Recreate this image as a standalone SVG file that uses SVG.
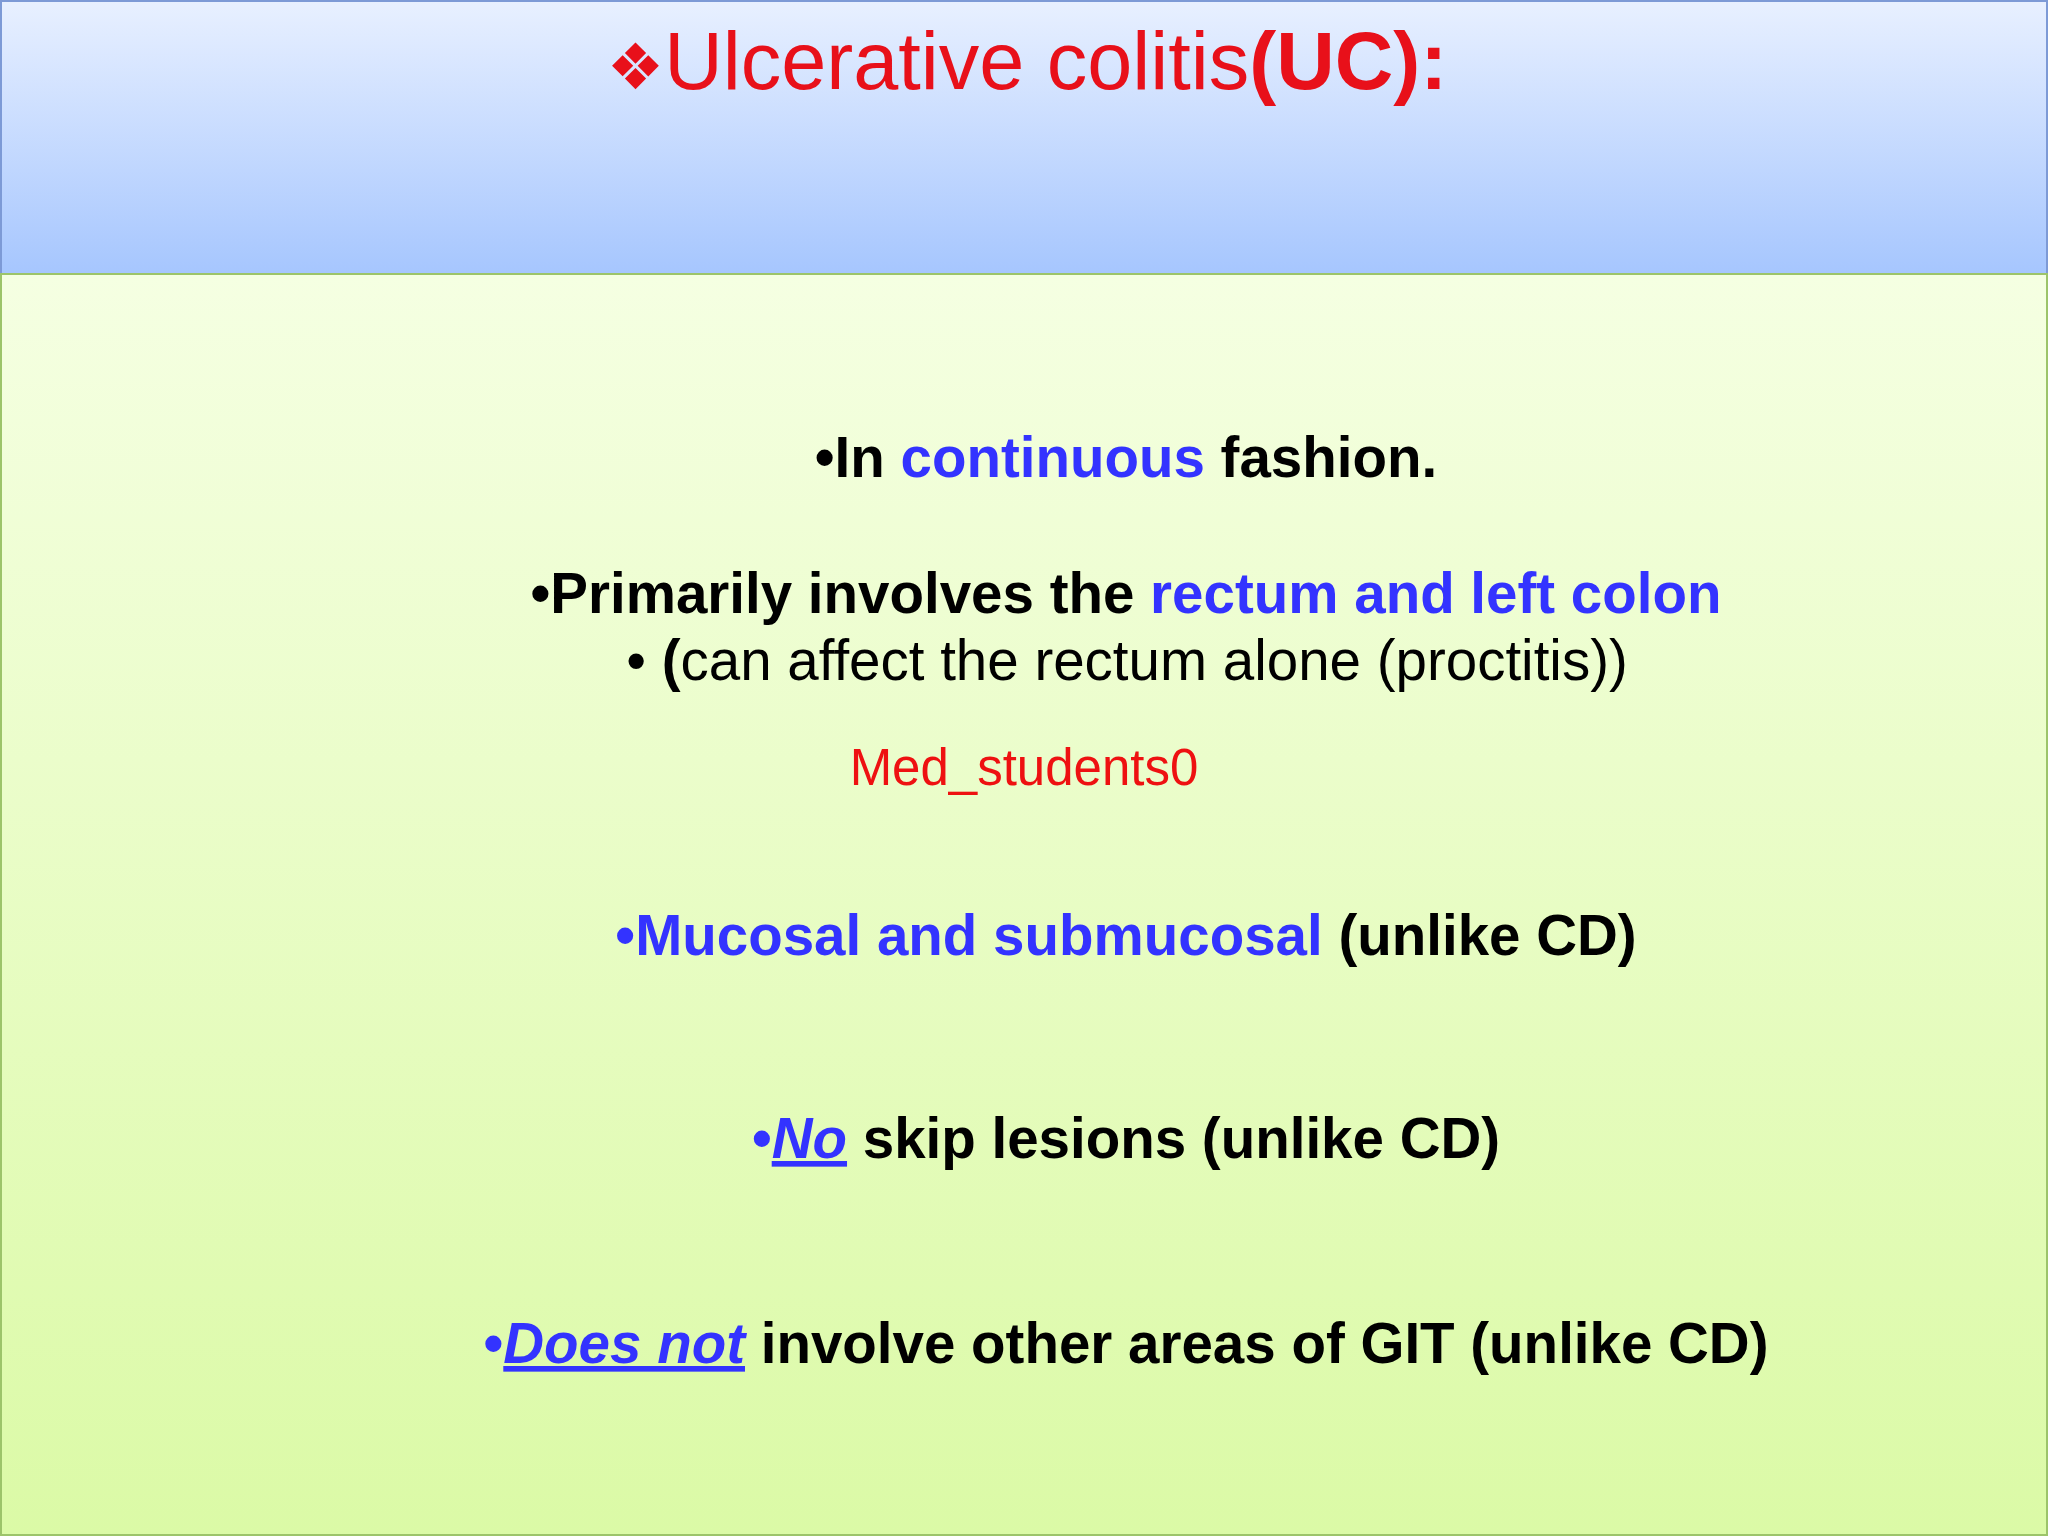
<svg xmlns="http://www.w3.org/2000/svg" width="2048" height="1536" viewBox="0 0 2048 1536">
<defs>
<linearGradient id="h" x1="0" y1="0" x2="0" y2="1"><stop offset="0" stop-color="#e8f0ff"/><stop offset="1" stop-color="#a6c6fe"/></linearGradient>
<linearGradient id="b" x1="0" y1="0" x2="0" y2="1"><stop offset="0" stop-color="#f5ffe2"/><stop offset="1" stop-color="#dbfaa6"/></linearGradient>
<style>
.t{font-family:"Liberation Sans",Arial,sans-serif;font-size:56.5px;font-weight:bold;fill:#000;text-anchor:middle}
.bl{fill:#3333ff}
.n{font-weight:normal}
</style>
</defs>
<rect x="1" y="1" width="2046" height="273" fill="url(#h)" stroke="#7d9ad6" stroke-width="2"/>
<rect x="1" y="274" width="2046" height="1261" fill="url(#b)" stroke="#9cc46a" stroke-width="2"/>
<g id="title">
<text x="1027" y="89" font-family="'Liberation Sans',Arial,sans-serif" font-size="81" fill="#e8101a" text-anchor="middle"><tspan font-family="'DejaVu Sans',sans-serif" font-size="64">❖</tspan>Ulcerative colitis<tspan font-weight="bold">(UC):</tspan></text>
</g>
<g id="body">
<text class="t" x="1126" y="477">•In <tspan class="bl">continuous</tspan> fashion.</text>
<text class="t" x="1126" y="613">•Primarily involves the <tspan class="bl">rectum and left colon</tspan></text>
<text class="t n" x="1127" y="680">• <tspan font-weight="bold">(</tspan>can affect the rectum alone (proctitis))</text>
<text x="1024" y="785" font-family="'Liberation Sans',Arial,sans-serif" font-size="51" fill="#ee1111" text-anchor="middle">Med_students0</text>
<text class="t" x="1126" y="955"><tspan class="bl">•Mucosal and submucosal</tspan> (unlike CD)</text>
<text class="t" x="1126" y="1158"><tspan class="bl">•</tspan><tspan class="bl" font-style="italic" text-decoration="underline">No</tspan> skip lesions (unlike CD)</text>
<text class="t" x="1126" y="1363"><tspan class="bl">•</tspan><tspan class="bl" font-style="italic" text-decoration="underline">Does not</tspan> involve other areas of GIT (unlike CD)</text>
</g>
</svg>
